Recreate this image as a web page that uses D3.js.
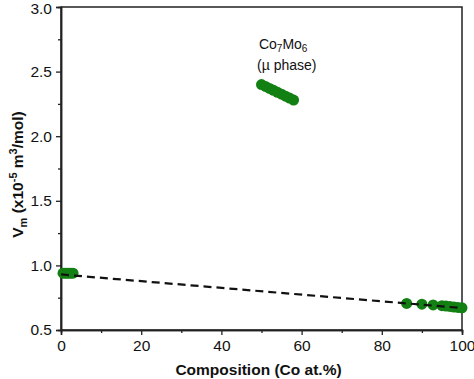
<!DOCTYPE html>
<html>
<head>
<meta charset="utf-8">
<script src="https://d3js.org/d3.v7.min.js"></script>
<style>
  body { margin: 0; background: #fff; }
  text { font-family: Arial, "Liberation Sans", sans-serif; fill: #111; }
</style>
</head>
<body>
<div id="vis-container"></div>
<script>
// Molar volume vs composition (Co-Mo)
const moSideX = [0.5, 1, 1.5, 2, 2.5, 3];
const moSideY = [0.94, 0.94, 0.94, 0.94, 0.94, 0.94];
const muX = [50, 51, 52, 53, 54, 55, 56, 57, 58];
const muY = [2.40, 2.385, 2.37, 2.355, 2.34, 2.325, 2.31, 2.295, 2.28];
const coSideX = [86.2, 90, 92.8, 95, 96, 97, 98, 99, 100];
const coSideY = [0.706, 0.70, 0.694, 0.688, 0.685, 0.682, 0.678, 0.675, 0.672];
const fitX = [0, 100];
const fitY = [0.93, 0.67];
const xTicks = [0, 20, 40, 60, 80, 100];
const yTicks = [0.5, 1.0, 1.5, 2.0, 2.5, 3.0];

const width = 474, height = 379;
const margin = { left: 61, right: 12, top: 7, bottom: 49 };
const green = "#128012";

const svg = d3.select("#vis-container")
  .append("svg")
  .attr("width", width)
  .attr("height", height);

const x = d3.scaleLinear().domain([0, 100]).range([margin.left, width - margin.right]);
const y = d3.scaleLinear().domain([0.5, 3.0]).range([height - margin.bottom, margin.top]);

// frame
svg.append("rect")
  .attr("x", x(0)).attr("y", y(3))
  .attr("width", x(100) - x(0)).attr("height", y(0.5) - y(3))
  .attr("fill", "none").attr("stroke", "#222").attr("stroke-width", 1.5);

// axes
svg.append("g")
  .attr("transform", `translate(0,${y(0.5)})`)
  .call(d3.axisBottom(x).tickValues(xTicks).tickSize(5).tickPadding(5).tickFormat(d3.format("d")));
svg.append("g")
  .attr("transform", `translate(0,${y(0.5)})`)
  .call(d3.axisBottom(x).tickValues(d3.range(10, 100, 20)).tickSize(3).tickFormat(""));
const yAxis = svg.append("g")
  .attr("transform", `translate(${x(0)},0)`)
  .call(d3.axisLeft(y).tickValues(yTicks).tickSize(5).tickPadding(4).tickFormat(d3.format(".1f")));
svg.append("g")
  .attr("transform", `translate(${x(0)},0)`)
  .call(d3.axisLeft(y).tickValues(d3.range(0.75, 3, 0.5)).tickSize(3).tickFormat(""));

svg.selectAll(".domain").attr("stroke", "#222").attr("stroke-width", 1.5);
svg.selectAll(".tick line").attr("stroke", "#222").attr("stroke-width", 1.3);
svg.selectAll(".tick text").attr("font-size", 15.5).attr("fill", "#222")
  .attr("font-family", "Arial, 'Liberation Sans', sans-serif");
// keep the top label inside the page
yAxis.selectAll(".tick text").filter(d => d === 3.0).attr("dy", "0.45em");

// points
const pts = [];
moSideX.forEach((v, i) => pts.push([v, moSideY[i]]));
muX.forEach((v, i) => pts.push([v, muY[i]]));
coSideX.forEach((v, i) => pts.push([v, coSideY[i]]));

svg.append("g").selectAll("circle")
  .data(pts)
  .enter()
  .append("circle")
  .attr("cx", d => x(d[0]))
  .attr("cy", d => y(d[1]))
  .attr("r", 5.5)
  .attr("fill", green);

// fit line
svg.append("line")
  .attr("x1", x(fitX[0])).attr("y1", y(fitY[0]))
  .attr("x2", x(fitX[1])).attr("y2", y(fitY[1]))
  .attr("stroke", "#111").attr("stroke-width", 2.2)
  .attr("stroke-dasharray", "8,5");

// axis titles
svg.append("text")
  .attr("x", (x(0) + x(100)) / 2 - 3)
  .attr("y", 375)
  .attr("text-anchor", "middle")
  .attr("font-size", 15.5).attr("font-weight", "bold")
  .text("Composition (Co at.%)");

const yt = svg.append("text")
  .attr("transform", `translate(23,${(y(0.5) + y(3)) / 2 + 6}) rotate(-90)`)
  .attr("text-anchor", "middle")
  .attr("font-size", 15.5).attr("font-weight", "bold");
yt.append("tspan").text("V");
yt.append("tspan").attr("font-size", 11).attr("dy", 4).text("m");
yt.append("tspan").attr("dy", -4).text(" (x10");
yt.append("tspan").attr("font-size", 11).attr("dy", -6).text("-5");
yt.append("tspan").attr("dy", 6).text(" m");
yt.append("tspan").attr("font-size", 11).attr("dy", -6).text("3");
yt.append("tspan").attr("dy", 6).text("/mol)");

// annotation
const a1 = svg.append("text")
  .attr("x", x(55.4)).attr("y", 49)
  .attr("text-anchor", "middle")
  .attr("font-size", 14);
a1.append("tspan").text("Co");
a1.append("tspan").attr("font-size", 10).attr("dy", 3).text("7");
a1.append("tspan").attr("dy", -3).text("Mo");
a1.append("tspan").attr("font-size", 10).attr("dy", 3).text("6");

svg.append("text")
  .attr("x", x(56.3)).attr("y", 70)
  .attr("text-anchor", "middle")
  .attr("font-size", 14)
  .text("(\u00b5 phase)");
</script>
</body>
</html>
